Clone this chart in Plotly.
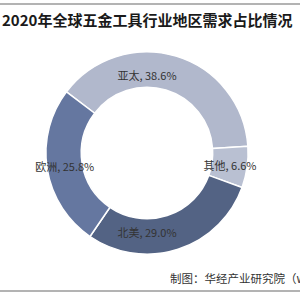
import plotly.graph_objects as go

regions = ["亚太", "其他", "北美", "欧洲"]
shares = [38.6, 6.6, 29.0, 25.8]
colors = ["#b1b8cc", "#b9c0d2", "#536384", "#6577a0"]
title_text = "2020年全球五金工具行业地区需求占比情况"
source_text = "制图：华经产业研究院（www.huaon.com）"

labels_txt = [f"{r}, {v:.1f}%" for r, v in zip(regions, shares)]

fig = go.Figure(go.Pie(
    labels=regions,
    values=shares,
    text=labels_txt,
    textinfo="text",
    textposition="inside",
    insidetextorientation="horizontal",
    hole=0.65,
    sort=False,
    direction="clockwise",
    rotation=-52.8,
    marker=dict(colors=colors, line=dict(color="white", width=1.5)),
    textfont=dict(family="Noto Sans CJK SC, Liberation Sans", size=11, color="#333333"),
    domain=dict(x=[0.153, 0.827], y=[0.153, 0.827]),
    showlegend=False,
))

fig.update_layout(
    width=300, height=300,
    margin=dict(l=0, r=0, t=0, b=0),
    paper_bgcolor="white",
    plot_bgcolor="white",
    uniformtext=dict(minsize=11, mode="show"),
    shapes=[
        dict(type="line", xref="paper", yref="paper", x0=0, x1=1, y0=1 - 4/300, y1=1 - 4/300,
             line=dict(color="#9a9a9a", width=1.5)),
        dict(type="line", xref="paper", yref="paper", x0=0, x1=1, y0=1 - 291/300, y1=1 - 291/300,
             line=dict(color="#9a9a9a", width=1.5)),
    ],
    annotations=[
        dict(text=f"<b>{title_text}</b>", xref="paper", yref="paper", x=0, y=1 - 20/300,
             xanchor="left", yanchor="middle", showarrow=False,
             font=dict(family="Noto Sans CJK SC", size=15, color="#1a1a1a")),
        dict(text=source_text, xref="paper", yref="paper", x=168/300, y=1 - 278/300,
             xanchor="left", yanchor="middle", showarrow=False,
             font=dict(family="Noto Sans CJK SC", size=11.5, color="#333333")),
    ],
)

fig.write_html("out.html")
